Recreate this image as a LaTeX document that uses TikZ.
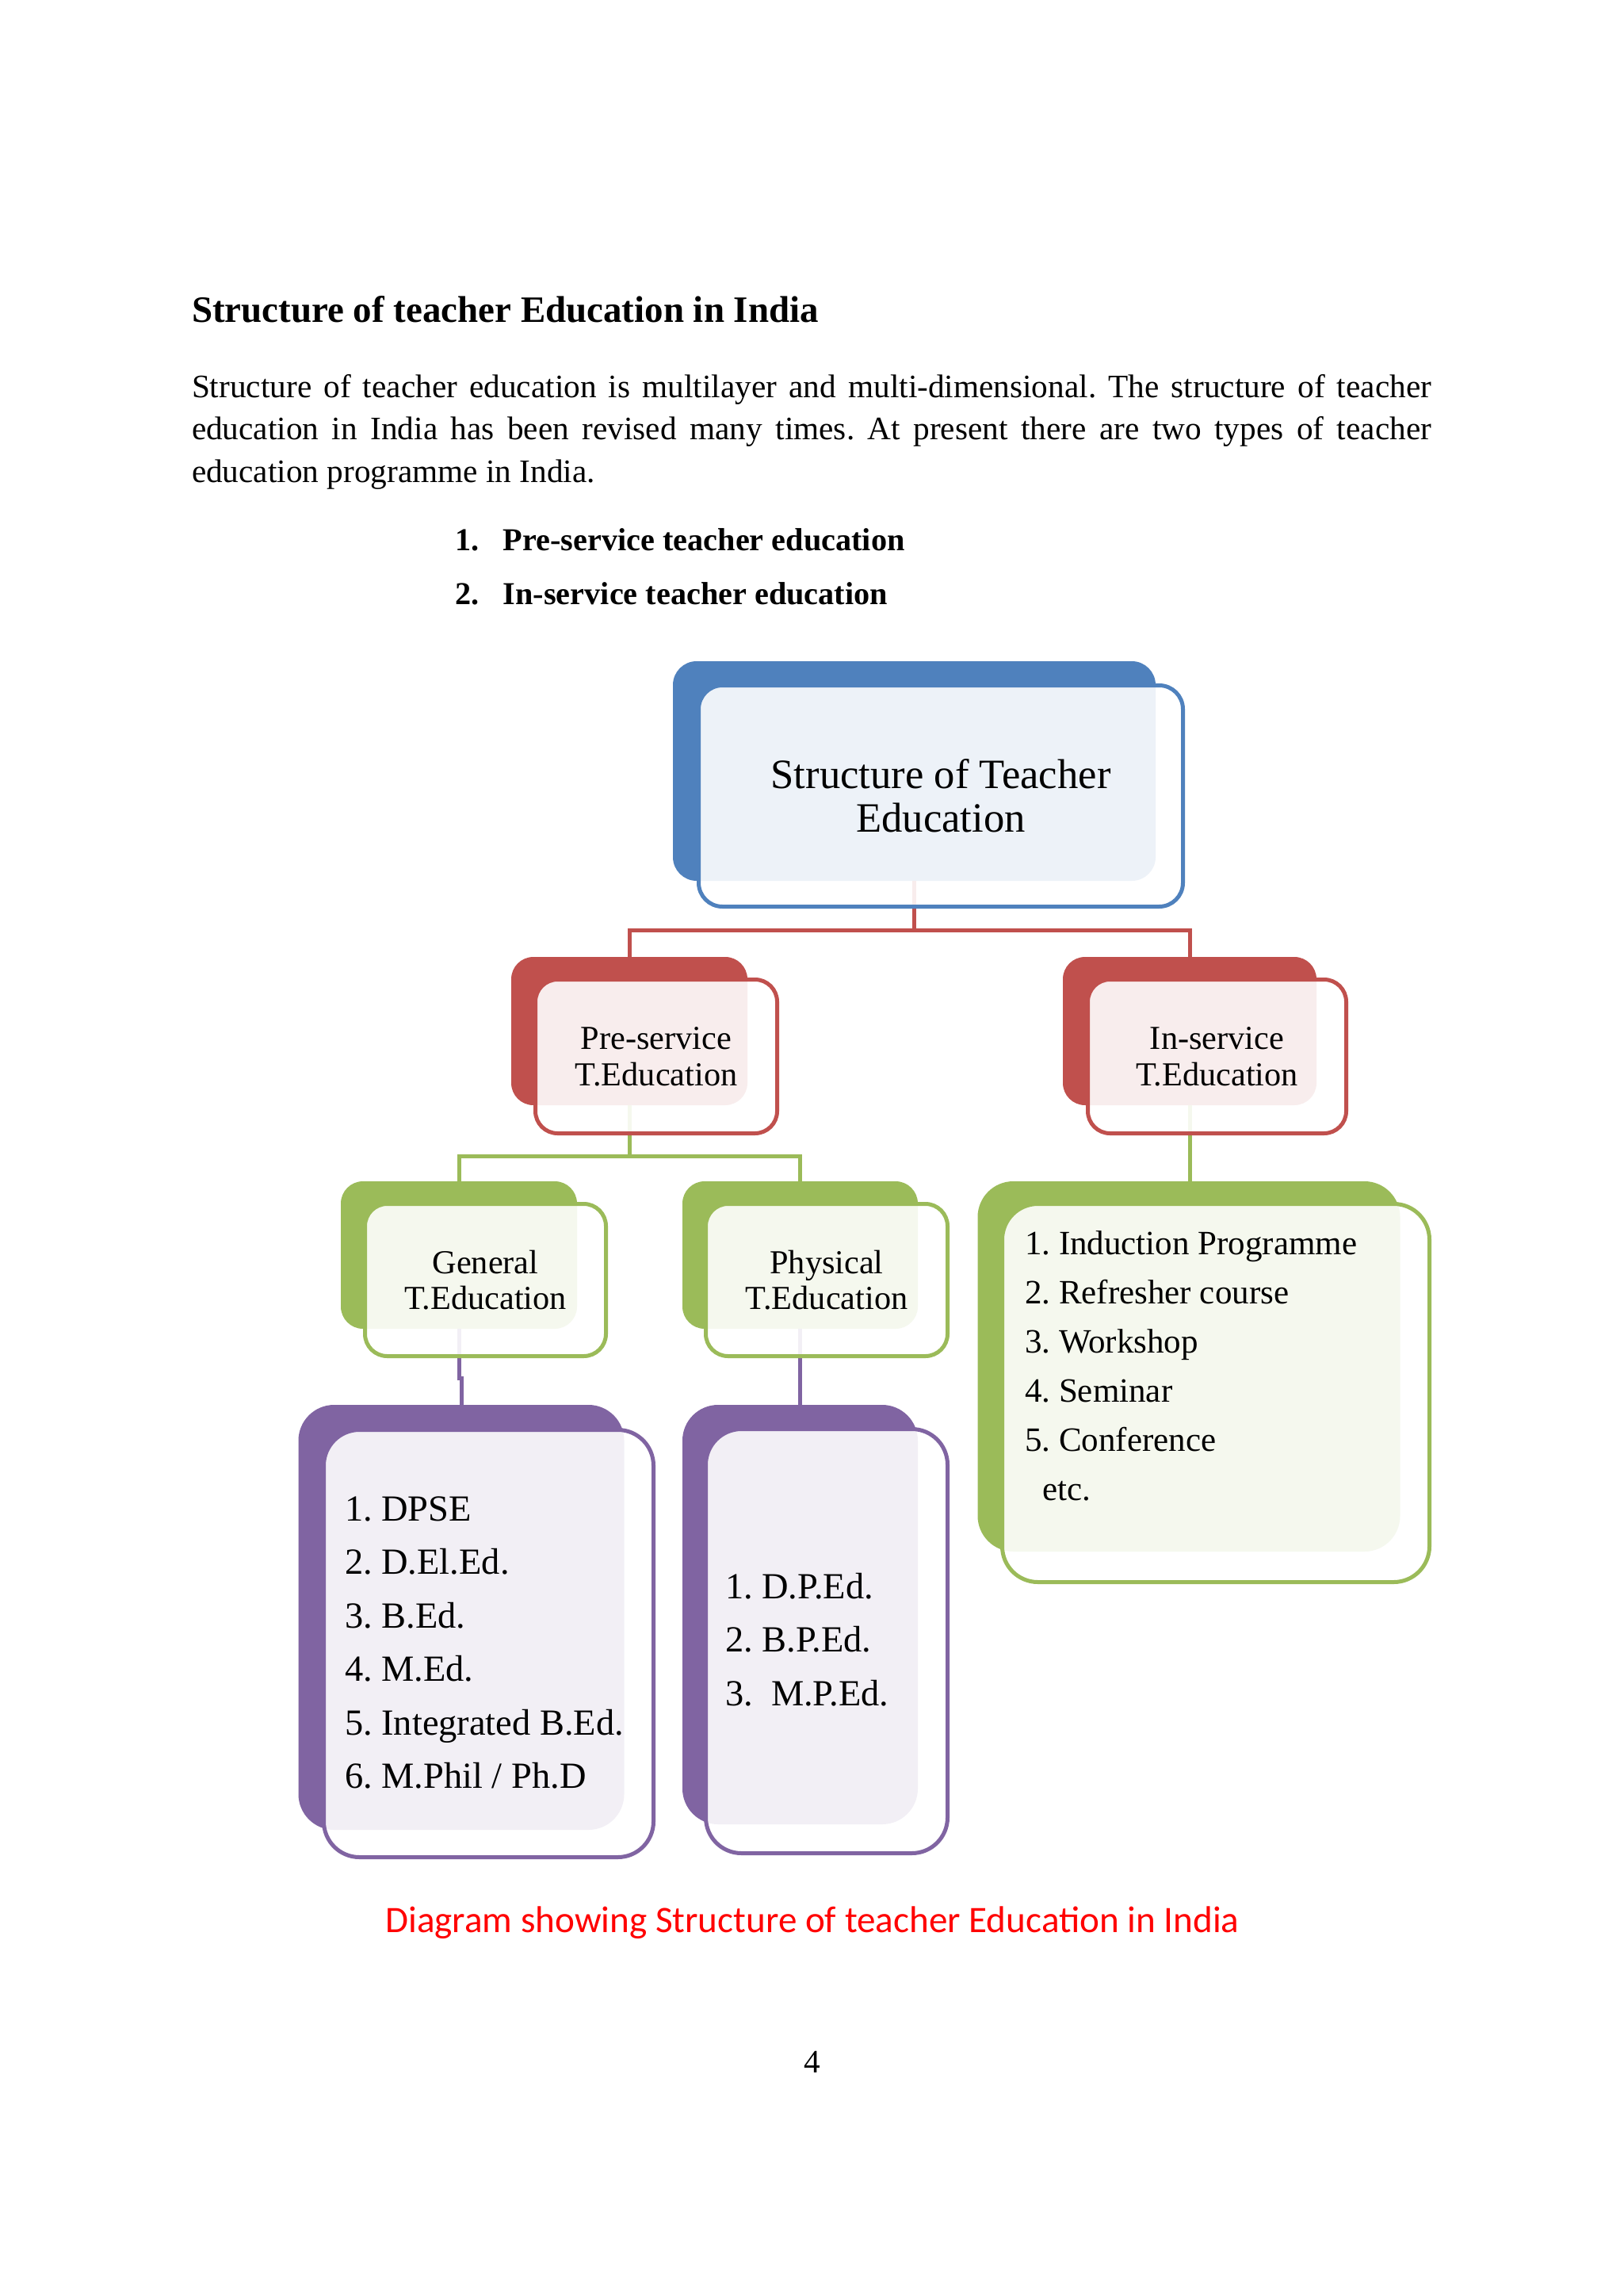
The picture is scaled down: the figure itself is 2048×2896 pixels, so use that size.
\documentclass[tikz,border=0pt]{standalone}
\usepackage{fontspec}
\setmainfont{Liberation Serif}
\newfontfamily\capfont{Carlito}
\definecolor{cblue}{HTML}{4F81BD}
\definecolor{cred}{HTML}{C0504D}
\definecolor{cgreen}{HTML}{9BBB59}
\definecolor{cpurple}{HTML}{8064A2}
\definecolor{capred}{HTML}{FF0000}
\def\pxu{0.29068pt}
\tikzset{
  backbox/.style n args={4}{fill=#1, draw=none, rounded corners=#4*\pxu,
    minimum width=#2*\pxu, minimum height=#3*\pxu, inner sep=0pt, outer sep=0pt},
  frontbox/.style n args={4}{draw=#1, line width=5*\pxu, fill=white, fill opacity=0.9,
    text opacity=1, rounded corners=#4*\pxu, minimum width=#2*\pxu, minimum height=#3*\pxu,
    inner sep=0pt, outer sep=0pt, align=center, text=black},
  conn/.style={draw=#1, line width=5*\pxu, line join=miter},
  txt/.style={anchor=base west, inner sep=0pt, outer sep=0pt},
  bodyfont/.style={font=\fontsize{12}{14}\selectfont},
  boldfont/.style={font=\fontsize{11.7}{14}\selectfont\bfseries},
  glfont/.style={font=\fontsize{13.5}{16}\selectfont},
  ilfont/.style={font=\fontsize{12.5}{15}\selectfont},
}
\frenchspacing
\begin{document}
\begin{tikzpicture}[x=0.29068pt,y=-0.29068pt]
\fill[white] (0,0) rectangle (2048,2896);
\useasboundingbox (0,0) rectangle (2048,2896);

% heading and paragraph
\node[txt, font=\fontsize{13.65}{16}\selectfont\bfseries] (title) at (242,407) {Structure of teacher Education in India};
\node[txt, bodyfont] (p1) at (242,502) {\makebox[454.6pt][s]{Structure of teacher education is multilayer and multi-dimensional. The structure of teacher}};
\node[txt, bodyfont] (p2) at (242,555) {\makebox[454.6pt][s]{education in India has been revised many times. At present there are two types of teacher}};
\node[txt, bodyfont] (p3) at (242,609) {education programme in India.};
\node[txt, boldfont] (li1) at (574,695) {\makebox[17.7pt][l]{1.}Pre-service teacher education};
\node[txt, boldfont] (li2) at (574,763) {\makebox[17.7pt][l]{2.}In-service teacher education};

% back boxes
\node[backbox={cblue}{609}{277}{30}] (topB) at (1153.5,972.5) {};
\node[backbox={cred}{298}{187}{28}] (preB) at (794,1300.5) {};
\node[backbox={cred}{320}{187}{28}] (inB) at (1501,1300.5) {};
\node[backbox={cgreen}{298}{186}{28}] (genB) at (579,1583) {};
\node[backbox={cgreen}{297}{186}{28}] (phyB) at (1009.5,1583) {};
\node[backbox={cpurple}{411}{536}{45}] (glB) at (582,2040) {};
\node[backbox={cpurple}{297}{529}{45}] (plB) at (1009.5,2036.5) {};
\node[backbox={cgreen}{533}{467}{45}] (ilB) at (1500,1723.5) {};

% connectors
\draw[conn=cred] (topB.south) -- ++(0,62) coordinate (j1) -| (preB.north);
\draw[conn=cred] (j1) -| (inB.north);
\draw[conn=cgreen] (preB.south) -- ++(0,64) coordinate (j2) -| (genB.north);
\draw[conn=cgreen] (j2) -| (phyB.north);
\draw[conn=cgreen] (inB.south) -- (inB.south |- ilB.north);
\draw[conn=cpurple] (genB.south) -- ++(0,62) -| (glB.north);
\draw[conn=cpurple] (phyB.south) -- (phyB.south |- plB.north);

% front boxes
\node[frontbox={cblue}{611}{279}{30}, font=\fontsize{15.3}{16}\selectfont] (topF) at (1187,1004) {Structure of Teacher\\Education};
\node[frontbox={cred}{305}{194}{28}, font=\fontsize{12.3}{13.4}\selectfont] (preF) at (828,1332.5) {Pre-service\\T.Education};
\node[frontbox={cred}{326}{194}{28}, font=\fontsize{12.3}{13.4}\selectfont] (inF) at (1535.5,1332.5) {In-service\\T.Education};
\node[frontbox={cgreen}{304}{192}{28}, font=\fontsize{12.3}{13.1}\selectfont] (genF) at (612.5,1614.5) {General\\T.Education};
\node[frontbox={cgreen}{305}{192}{28}, font=\fontsize{12.3}{13.1}\selectfont] (phyF) at (1043,1614.5) {Physical\\T.Education};
\node[frontbox={cpurple}{416}{539}{45}] (glF) at (616.5,2073) {};
\node[frontbox={cpurple}{305}{535}{45}] (plF) at (1043,2070) {};
\node[frontbox={cgreen}{539}{477}{45}] (ilF) at (1534,1757) {};

% list texts
\node[txt, glfont] (g1) at (435,1918) {1. DPSE};
\node[txt, glfont] (g2) at (435,1985.5) {2. D.El.Ed.};
\node[txt, glfont] (g3) at (435,2053) {3. B.Ed.};
\node[txt, glfont] (g4) at (435,2120.5) {4. M.Ed.};
\node[txt, glfont] (g5) at (435,2188) {5. Integrated B.Ed.};
\node[txt, glfont] (g6) at (435,2255.5) {6. M.Phil / Ph.D};

\node[txt, glfont] (q1) at (915,2016) {1. D.P.Ed.};
\node[txt, glfont] (q2) at (915,2083.5) {2. B.P.Ed.};
\node[txt, glfont] (q3) at (915,2151) {3.~ M.P.Ed.};

\node[txt, ilfont] (i1) at (1293,1582) {1. Induction Programme};
\node[txt, ilfont] (i2) at (1293,1644) {2. Refresher course};
\node[txt, ilfont] (i3) at (1293,1706) {3. Workshop};
\node[txt, ilfont] (i4) at (1293,1768) {4. Seminar};
\node[txt, ilfont] (i5) at (1293,1830) {5. Conference};
\node[txt, ilfont] (i6) at (1315,1892) {etc.};

% caption and page number
\node[anchor=base, inner sep=0pt, text=capred, font=\capfont\fontsize{13.7}{16}\selectfont] (cap) at (1025,2437) {Diagram showing Structure of teacher Education in India};
\node[anchor=base, inner sep=0pt, font=\fontsize{12}{14}\selectfont] (pg) at (1024.5,2614) {4};
\end{tikzpicture}
\end{document}
